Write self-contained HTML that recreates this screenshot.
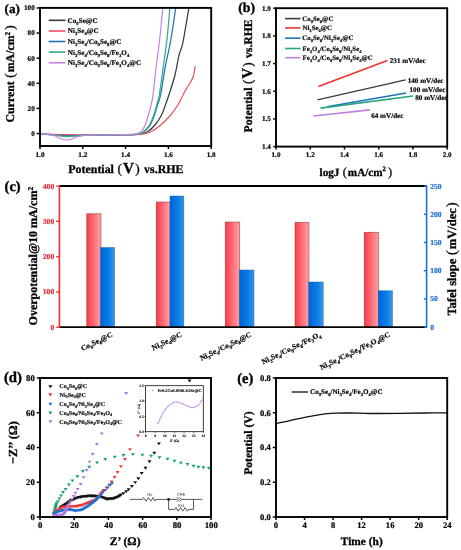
<!DOCTYPE html>
<html><head><meta charset="utf-8"><style>
html,body{margin:0;padding:0;background:#fff;overflow:hidden;}
svg{display:block;font-family:"Liberation Serif", serif;text-rendering:geometricPrecision;filter:blur(0.3px);}
</style></head><body>
<svg width="461" height="550" viewBox="0 0 461 550">
<rect width="461" height="550" fill="#fff"/>
<line x1="36.60" y1="133.50" x2="40.00" y2="133.50" stroke="#000" stroke-width="1.5"/>
<text x="34.80" y="135.88" font-size="7.214" font-weight="bold" text-anchor="end" stroke="#000" stroke-width="0.180">0</text>
<line x1="36.60" y1="108.40" x2="40.00" y2="108.40" stroke="#000" stroke-width="1.5"/>
<text x="34.80" y="110.78" font-size="7.214" font-weight="bold" text-anchor="end" stroke="#000" stroke-width="0.180">20</text>
<line x1="36.60" y1="83.30" x2="40.00" y2="83.30" stroke="#000" stroke-width="1.5"/>
<text x="34.80" y="85.68" font-size="7.214" font-weight="bold" text-anchor="end" stroke="#000" stroke-width="0.180">40</text>
<line x1="36.60" y1="58.20" x2="40.00" y2="58.20" stroke="#000" stroke-width="1.5"/>
<text x="34.80" y="60.58" font-size="7.214" font-weight="bold" text-anchor="end" stroke="#000" stroke-width="0.180">60</text>
<line x1="36.60" y1="33.10" x2="40.00" y2="33.10" stroke="#000" stroke-width="1.5"/>
<text x="34.80" y="35.48" font-size="7.214" font-weight="bold" text-anchor="end" stroke="#000" stroke-width="0.180">80</text>
<line x1="36.60" y1="8.00" x2="40.00" y2="8.00" stroke="#000" stroke-width="1.5"/>
<text x="34.80" y="10.38" font-size="7.214" font-weight="bold" text-anchor="end" stroke="#000" stroke-width="0.180">100</text>
<line x1="40.00" y1="146.00" x2="40.00" y2="149.00" stroke="#000" stroke-width="1.5"/>
<text x="40.00" y="156.90" font-size="7.214" font-weight="bold" text-anchor="middle" stroke="#000" stroke-width="0.180">1.0</text>
<line x1="82.80" y1="146.00" x2="82.80" y2="149.00" stroke="#000" stroke-width="1.5"/>
<text x="82.80" y="156.90" font-size="7.214" font-weight="bold" text-anchor="middle" stroke="#000" stroke-width="0.180">1.2</text>
<line x1="125.60" y1="146.00" x2="125.60" y2="149.00" stroke="#000" stroke-width="1.5"/>
<text x="125.60" y="156.90" font-size="7.214" font-weight="bold" text-anchor="middle" stroke="#000" stroke-width="0.180">1.4</text>
<line x1="168.40" y1="146.00" x2="168.40" y2="149.00" stroke="#000" stroke-width="1.5"/>
<text x="168.40" y="156.90" font-size="7.214" font-weight="bold" text-anchor="middle" stroke="#000" stroke-width="0.180">1.6</text>
<line x1="211.20" y1="146.00" x2="211.20" y2="149.00" stroke="#000" stroke-width="1.5"/>
<text x="211.20" y="156.90" font-size="7.214" font-weight="bold" text-anchor="middle" stroke="#000" stroke-width="0.180">1.8</text>
<path d="M40.00,134.00 C43.33,134.13 53.33,134.60 60.00,134.80 C66.67,135.00 73.33,135.17 80.00,135.20 C86.67,135.23 92.00,135.08 100.00,135.00 C108.00,134.92 122.00,134.80 128.00,134.70 C134.00,134.60 133.83,134.58 136.00,134.40 C138.17,134.22 139.13,134.00 141.00,133.60 C142.87,133.20 144.87,133.43 147.20,132.00 C149.53,130.57 152.62,127.83 155.00,125.00 C157.38,122.17 159.77,118.33 161.50,115.00 C163.23,111.67 164.17,108.33 165.40,105.00 C166.63,101.67 167.30,100.00 168.90,95.00 C170.50,90.00 173.33,81.57 175.00,75.00 C176.67,68.43 177.82,60.13 178.90,55.60 C179.98,51.07 180.75,50.40 181.50,47.80 C182.25,45.20 182.17,46.65 183.40,40.00 C184.63,33.35 187.98,13.25 188.90,7.90" fill="none" stroke="#3a3a3a" stroke-width="1.25" stroke-linejoin="round" stroke-linecap="round"/>
<path d="M40.00,134.00 C43.33,134.08 53.33,134.33 60.00,134.50 C66.67,134.67 73.33,134.92 80.00,135.00 C86.67,135.08 91.67,135.03 100.00,135.00 C108.33,134.97 123.67,134.88 130.00,134.80 C136.33,134.72 135.83,134.67 138.00,134.50 C140.17,134.33 140.93,134.22 143.00,133.80 C145.07,133.38 147.43,133.47 150.40,132.00 C153.37,130.53 157.43,127.83 160.80,125.00 C164.17,122.17 167.77,118.33 170.60,115.00 C173.43,111.67 175.73,108.33 177.80,105.00 C179.87,101.67 181.52,97.80 183.00,95.00 C184.48,92.20 185.53,90.20 186.70,88.20 C187.87,86.20 188.92,84.95 190.00,83.00 C191.08,81.05 192.35,79.22 193.20,76.50 C194.05,73.78 194.78,68.33 195.10,66.70" fill="none" stroke="#ea5560" stroke-width="1.25" stroke-linejoin="round" stroke-linecap="round"/>
<path d="M40.00,134.00 C43.33,134.25 55.00,135.17 60.00,135.50 C65.00,135.83 65.83,136.03 70.00,136.00 C74.17,135.97 80.00,135.47 85.00,135.30 C90.00,135.13 92.83,135.10 100.00,135.00 C107.17,134.90 122.00,134.80 128.00,134.70 C134.00,134.60 133.92,134.58 136.00,134.40 C138.08,134.22 139.17,134.00 140.50,133.60 C141.83,133.20 142.38,133.43 144.00,132.00 C145.62,130.57 148.45,127.83 150.20,125.00 C151.95,122.17 153.28,118.33 154.50,115.00 C155.72,111.67 156.48,108.33 157.50,105.00 C158.52,101.67 159.32,101.28 160.60,95.00 C161.88,88.72 163.50,76.47 165.20,67.30 C166.90,58.13 169.05,49.90 170.80,40.00 C172.55,30.10 174.88,13.25 175.70,7.90" fill="none" stroke="#2272b8" stroke-width="1.25" stroke-linejoin="round" stroke-linecap="round"/>
<path d="M40.00,134.00 C41.67,134.08 46.67,134.17 50.00,134.50 C53.33,134.83 57.33,135.65 60.00,136.00 C62.67,136.35 63.67,136.60 66.00,136.60 C68.33,136.60 70.83,136.22 74.00,136.00 C77.17,135.78 80.67,135.47 85.00,135.30 C89.33,135.13 92.83,135.10 100.00,135.00 C107.17,134.90 122.00,134.80 128.00,134.70 C134.00,134.60 134.00,134.58 136.00,134.40 C138.00,134.22 138.78,134.00 140.00,133.60 C141.22,133.20 141.73,133.43 143.30,132.00 C144.87,130.57 147.67,127.83 149.40,125.00 C151.13,122.17 152.48,118.33 153.70,115.00 C154.92,111.67 155.77,108.33 156.70,105.00 C157.63,101.67 158.22,101.28 159.30,95.00 C160.38,88.72 161.93,76.47 163.20,67.30 C164.47,58.13 165.78,49.90 166.90,40.00 C168.02,30.10 169.40,13.25 169.90,7.90" fill="none" stroke="#3aa884" stroke-width="1.25" stroke-linejoin="round" stroke-linecap="round"/>
<path d="M40.00,134.00 C41.33,134.05 45.67,134.05 48.00,134.30 C50.33,134.55 52.00,134.83 54.00,135.50 C56.00,136.17 58.00,137.55 60.00,138.30 C62.00,139.05 64.00,139.88 66.00,140.00 C68.00,140.12 70.00,139.58 72.00,139.00 C74.00,138.42 75.83,137.13 78.00,136.50 C80.17,135.87 81.33,135.45 85.00,135.20 C88.67,134.95 93.33,135.08 100.00,135.00 C106.67,134.92 119.33,134.83 125.00,134.70 C130.67,134.57 131.83,134.42 134.00,134.20 C136.17,133.98 136.78,133.85 138.00,133.40 C139.22,132.95 140.10,132.90 141.30,131.50 C142.50,130.10 144.00,127.75 145.20,125.00 C146.40,122.25 147.52,118.33 148.50,115.00 C149.48,111.67 150.35,108.33 151.10,105.00 C151.85,101.67 152.17,101.28 153.00,95.00 C153.83,88.72 155.00,76.47 156.10,67.30 C157.20,58.13 158.48,49.90 159.60,40.00 C160.72,30.10 162.27,13.25 162.80,7.90" fill="none" stroke="#c388e0" stroke-width="1.25" stroke-linejoin="round" stroke-linecap="round"/>
<rect x="40" y="7.9" width="171.20" height="138.10" fill="none" stroke="#000" stroke-width="1.9"/>
<line x1="48.70" y1="20.30" x2="65.50" y2="20.30" stroke="#3a3a3a" stroke-width="1.6"/>
<g transform="translate(67.61,22.70)"><text font-size="7.158" font-weight="bold" stroke="#000" stroke-width="0.179">Co<tspan font-size="4.72" dy="2.00">9</tspan><tspan font-size="7.16" dy="-2.00">S</tspan>e@C</text></g>
<line x1="48.70" y1="31.00" x2="65.50" y2="31.00" stroke="#ea5560" stroke-width="1.6"/>
<g transform="translate(67.83,33.40)"><text font-size="7.158" font-weight="bold" stroke="#000" stroke-width="0.179">Ni<tspan font-size="4.72" dy="2.00">3</tspan><tspan font-size="7.16" dy="-2.00">S</tspan>e<tspan font-size="4.72" dy="2.00">4</tspan><tspan font-size="7.16" dy="-2.00">@</tspan>C</text></g>
<line x1="48.70" y1="41.50" x2="65.50" y2="41.50" stroke="#2272b8" stroke-width="1.6"/>
<g transform="translate(67.83,43.90)"><text font-size="7.158" font-weight="bold" stroke="#000" stroke-width="0.179">Ni<tspan font-size="4.72" dy="2.00">3</tspan><tspan font-size="7.16" dy="-2.00">S</tspan>e<tspan font-size="4.72" dy="2.00">4</tspan><tspan font-size="7.16" dy="-2.00">/</tspan>Co<tspan font-size="4.72" dy="2.00">9</tspan><tspan font-size="7.16" dy="-2.00">S</tspan>e<tspan font-size="4.72" dy="2.00">8</tspan><tspan font-size="7.16" dy="-2.00">@</tspan>C</text></g>
<line x1="48.70" y1="52.10" x2="65.50" y2="52.10" stroke="#3aa884" stroke-width="1.6"/>
<g transform="translate(67.83,54.50)"><text font-size="7.158" font-weight="bold" stroke="#000" stroke-width="0.179">Ni<tspan font-size="4.72" dy="2.00">3</tspan><tspan font-size="7.16" dy="-2.00">S</tspan>e<tspan font-size="4.72" dy="2.00">4</tspan><tspan font-size="7.16" dy="-2.00">/</tspan>Co<tspan font-size="4.72" dy="2.00">9</tspan><tspan font-size="7.16" dy="-2.00">S</tspan>e<tspan font-size="4.72" dy="2.00">8</tspan><tspan font-size="7.16" dy="-2.00">/</tspan>Fe<tspan font-size="4.72" dy="2.00">3</tspan><tspan font-size="7.16" dy="-2.00">O</tspan><tspan font-size="4.72" dy="2.00">4</tspan></text></g>
<line x1="48.70" y1="62.80" x2="65.50" y2="62.80" stroke="#c388e0" stroke-width="1.6"/>
<g transform="translate(67.83,65.20)"><text font-size="7.158" font-weight="bold" stroke="#000" stroke-width="0.179">Ni<tspan font-size="4.72" dy="2.00">3</tspan><tspan font-size="7.16" dy="-2.00">S</tspan>e<tspan font-size="4.72" dy="2.00">4</tspan><tspan font-size="7.16" dy="-2.00">/</tspan>Co<tspan font-size="4.72" dy="2.00">9</tspan><tspan font-size="7.16" dy="-2.00">S</tspan>e<tspan font-size="4.72" dy="2.00">8</tspan><tspan font-size="7.16" dy="-2.00">/</tspan>Fe<tspan font-size="4.72" dy="2.00">3</tspan><tspan font-size="7.16" dy="-2.00">O</tspan><tspan font-size="4.72" dy="2.00">4</tspan><tspan font-size="7.16" dy="-2.00">@</tspan>C</text></g>
<g transform="translate(4.56,12.50)"><text font-size="13.136" font-weight="bold" stroke="#000" stroke-width="0.328">(a)</text></g>
<g transform="translate(68.30,173.30)"><text font-size="11.921" font-weight="bold" stroke="#000" stroke-width="0.298">Potential<tspan dx="3.58" font-weight="normal" font-size="13.35">(</tspan><tspan dx="1.07" font-size="11.92"><tspan font-size="15.26">V</tspan></tspan><tspan dx="1.07" font-weight="normal" font-size="13.35">)</tspan><tspan dx="4.53" font-size="11.92">vs.RHE</tspan></text></g>
<g transform="translate(14.10,122.47) rotate(-90)"><text font-size="11.845" font-weight="bold" stroke="#000" stroke-width="0.296">Current<tspan dx="3.55" font-weight="normal" font-size="13.27">(</tspan><tspan dx="1.07" font-size="11.85">mA/cm<tspan font-size="7.34" dy="-4.50">2</tspan><tspan font-size="11.85" dy="4.50"> </tspan></tspan><tspan dx="1.07" font-weight="normal" font-size="13.27">)</tspan><tspan dx="0.00" font-size="11.85"></tspan></text></g>
<line x1="273.20" y1="146.60" x2="276.00" y2="146.60" stroke="#000" stroke-width="1.5"/>
<text x="270.90" y="148.95" font-size="7.130" font-weight="bold" text-anchor="end" stroke="#000" stroke-width="0.178">1.4</text>
<line x1="273.20" y1="118.92" x2="276.00" y2="118.92" stroke="#000" stroke-width="1.5"/>
<text x="270.90" y="121.27" font-size="7.130" font-weight="bold" text-anchor="end" stroke="#000" stroke-width="0.178">1.5</text>
<line x1="273.20" y1="91.24" x2="276.00" y2="91.24" stroke="#000" stroke-width="1.5"/>
<text x="270.90" y="93.59" font-size="7.130" font-weight="bold" text-anchor="end" stroke="#000" stroke-width="0.178">1.6</text>
<line x1="273.20" y1="63.56" x2="276.00" y2="63.56" stroke="#000" stroke-width="1.5"/>
<text x="270.90" y="65.91" font-size="7.130" font-weight="bold" text-anchor="end" stroke="#000" stroke-width="0.178">1.7</text>
<line x1="273.20" y1="35.88" x2="276.00" y2="35.88" stroke="#000" stroke-width="1.5"/>
<text x="270.90" y="38.23" font-size="7.130" font-weight="bold" text-anchor="end" stroke="#000" stroke-width="0.178">1.8</text>
<line x1="273.20" y1="8.20" x2="276.00" y2="8.20" stroke="#000" stroke-width="1.5"/>
<text x="270.90" y="10.55" font-size="7.130" font-weight="bold" text-anchor="end" stroke="#000" stroke-width="0.178">1.9</text>
<line x1="276.00" y1="146.60" x2="276.00" y2="149.60" stroke="#000" stroke-width="1.5"/>
<text x="276.00" y="157.20" font-size="7.130" font-weight="bold" text-anchor="middle" stroke="#000" stroke-width="0.178">1.0</text>
<line x1="310.24" y1="146.60" x2="310.24" y2="149.60" stroke="#000" stroke-width="1.5"/>
<text x="310.24" y="157.20" font-size="7.130" font-weight="bold" text-anchor="middle" stroke="#000" stroke-width="0.178">1.2</text>
<line x1="344.48" y1="146.60" x2="344.48" y2="149.60" stroke="#000" stroke-width="1.5"/>
<text x="344.48" y="157.20" font-size="7.130" font-weight="bold" text-anchor="middle" stroke="#000" stroke-width="0.178">1.4</text>
<line x1="378.72" y1="146.60" x2="378.72" y2="149.60" stroke="#000" stroke-width="1.5"/>
<text x="378.72" y="157.20" font-size="7.130" font-weight="bold" text-anchor="middle" stroke="#000" stroke-width="0.178">1.6</text>
<line x1="412.96" y1="146.60" x2="412.96" y2="149.60" stroke="#000" stroke-width="1.5"/>
<text x="412.96" y="157.20" font-size="7.130" font-weight="bold" text-anchor="middle" stroke="#000" stroke-width="0.178">1.8</text>
<line x1="447.20" y1="146.60" x2="447.20" y2="149.60" stroke="#000" stroke-width="1.5"/>
<text x="447.20" y="157.20" font-size="7.130" font-weight="bold" text-anchor="middle" stroke="#000" stroke-width="0.178">2.0</text>
<line x1="318.40" y1="86.40" x2="387.40" y2="60.40" stroke="#ee3333" stroke-width="1.6"/>
<line x1="317.40" y1="99.90" x2="405.60" y2="79.80" stroke="#3a3a3a" stroke-width="1.3"/>
<line x1="327.10" y1="106.80" x2="406.10" y2="93.00" stroke="#1f70c0" stroke-width="1.6"/>
<line x1="320.60" y1="108.10" x2="413.00" y2="96.00" stroke="#25a57c" stroke-width="1.6"/>
<line x1="313.40" y1="116.00" x2="369.80" y2="109.90" stroke="#c080e0" stroke-width="1.6"/>
<rect x="276" y="8.2" width="171.20" height="138.40" fill="none" stroke="#000" stroke-width="1.9"/>
<g transform="translate(389.79,62.60)"><text font-size="7.149" font-weight="bold" stroke="#000" stroke-width="0.179">231 mV/dec</text></g>
<g transform="translate(407.70,82.70)"><text font-size="7.149" font-weight="bold" stroke="#000" stroke-width="0.179">140 mV/dec</text></g>
<g transform="translate(409.50,91.80)"><text font-size="7.149" font-weight="bold" stroke="#000" stroke-width="0.179">100 mV/dec</text></g>
<g transform="translate(415.26,100.30)"><text font-size="7.149" font-weight="bold" stroke="#000" stroke-width="0.179">80 mV/dec</text></g>
<g transform="translate(371.16,118.00)"><text font-size="7.149" font-weight="bold" stroke="#000" stroke-width="0.179">64 mV/dec</text></g>
<line x1="285.10" y1="18.60" x2="300.50" y2="18.60" stroke="#3a3a3a" stroke-width="1.6"/>
<g transform="translate(302.33,20.70)"><text font-size="6.847" font-weight="bold" stroke="#000" stroke-width="0.171">Co<tspan font-size="4.52" dy="1.92">9</tspan><tspan font-size="6.85" dy="-1.92">S</tspan>e<tspan font-size="4.52" dy="1.92">8</tspan><tspan font-size="6.85" dy="-1.92">@</tspan>C</text></g>
<line x1="285.10" y1="27.90" x2="300.50" y2="27.90" stroke="#ee3333" stroke-width="1.6"/>
<g transform="translate(302.53,30.00)"><text font-size="6.847" font-weight="bold" stroke="#000" stroke-width="0.171">Ni<tspan font-size="4.52" dy="1.92">3</tspan><tspan font-size="6.85" dy="-1.92">S</tspan>e<tspan font-size="4.52" dy="1.92">4</tspan><tspan font-size="6.85" dy="-1.92">@</tspan>C</text></g>
<line x1="285.10" y1="38.20" x2="300.50" y2="38.20" stroke="#1f70c0" stroke-width="1.6"/>
<g transform="translate(302.33,40.30)"><text font-size="6.847" font-weight="bold" stroke="#000" stroke-width="0.171">Co<tspan font-size="4.52" dy="1.92">9</tspan><tspan font-size="6.85" dy="-1.92">S</tspan>e<tspan font-size="4.52" dy="1.92">8</tspan><tspan font-size="6.85" dy="-1.92">/</tspan>Ni<tspan font-size="4.52" dy="1.92">3</tspan><tspan font-size="6.85" dy="-1.92">S</tspan>e<tspan font-size="4.52" dy="1.92">4</tspan><tspan font-size="6.85" dy="-1.92">@</tspan>C</text></g>
<line x1="285.10" y1="48.50" x2="300.50" y2="48.50" stroke="#25a57c" stroke-width="1.6"/>
<g transform="translate(302.60,50.60)"><text font-size="6.847" font-weight="bold" stroke="#000" stroke-width="0.171">Fe<tspan font-size="4.52" dy="1.92">3</tspan><tspan font-size="6.85" dy="-1.92">O</tspan><tspan font-size="4.52" dy="1.92">4</tspan><tspan font-size="6.85" dy="-1.92">/</tspan>Co<tspan font-size="4.52" dy="1.92">9</tspan><tspan font-size="6.85" dy="-1.92">S</tspan>e<tspan font-size="4.52" dy="1.92">8</tspan><tspan font-size="6.85" dy="-1.92">/</tspan>Ni<tspan font-size="4.52" dy="1.92">3</tspan><tspan font-size="6.85" dy="-1.92">S</tspan>e<tspan font-size="4.52" dy="1.92">4</tspan></text></g>
<line x1="285.10" y1="57.70" x2="300.50" y2="57.70" stroke="#c080e0" stroke-width="1.6"/>
<g transform="translate(302.60,59.80)"><text font-size="6.847" font-weight="bold" stroke="#000" stroke-width="0.171">Fe<tspan font-size="4.52" dy="1.92">3</tspan><tspan font-size="6.85" dy="-1.92">O</tspan><tspan font-size="4.52" dy="1.92">4</tspan><tspan font-size="6.85" dy="-1.92">/</tspan>Co<tspan font-size="4.52" dy="1.92">9</tspan><tspan font-size="6.85" dy="-1.92">S</tspan>e<tspan font-size="4.52" dy="1.92">8</tspan><tspan font-size="6.85" dy="-1.92">/</tspan>Ni<tspan font-size="4.52" dy="1.92">3</tspan><tspan font-size="6.85" dy="-1.92">S</tspan>e<tspan font-size="4.52" dy="1.92">4</tspan><tspan font-size="6.85" dy="-1.92">@</tspan>C</text></g>
<g transform="translate(238.19,12.00)"><text font-size="13.793" font-weight="bold" stroke="#000" stroke-width="0.345">(b)</text></g>
<g transform="translate(252.40,132.40) rotate(-90)"><text font-size="11.703" font-weight="bold" stroke="#000" stroke-width="0.293">Potential<tspan dx="3.51" font-weight="normal" font-size="13.11">(</tspan><tspan dx="1.05" font-size="11.70"><tspan font-size="14.98">V</tspan></tspan><tspan dx="1.05" font-weight="normal" font-size="13.11">)</tspan><tspan dx="4.45" font-size="11.70">vs.RHE</tspan></text></g>
<g transform="translate(319.59,175.60)"><text font-size="11.146" font-weight="bold" stroke="#000" stroke-width="0.279">logJ<tspan dx="3.34" font-weight="normal" font-size="12.48">(</tspan><tspan dx="1.00" font-size="11.15">mA/cm<tspan font-size="6.91" dy="-4.24">2</tspan><tspan font-size="11.15" dy="4.24"> </tspan></tspan><tspan dx="1.00" font-weight="normal" font-size="12.48">)</tspan><tspan dx="0.00" font-size="11.15"></tspan></text></g>
<defs><linearGradient id="gr" x1="0" x2="1" y1="0" y2="0"><stop offset="0" stop-color="#ff3846"/><stop offset="1" stop-color="#ffa3a8"/></linearGradient><linearGradient id="gb" x1="0" x2="1" y1="0" y2="0"><stop offset="0" stop-color="#0062dc"/><stop offset="0.6" stop-color="#0a7fe4"/><stop offset="1" stop-color="#3a96e6"/></linearGradient></defs>
<rect x="86.8" y="213.8" width="14.20" height="113.40" fill="url(#gr)" stroke="#7a3a3a" stroke-width="0.5"/>
<rect x="100.5" y="247.5" width="14.20" height="79.70" fill="url(#gb)" stroke="#1a5aa0" stroke-width="0.4"/>
<rect x="156.2" y="202.0" width="13.80" height="125.20" fill="url(#gr)" stroke="#7a3a3a" stroke-width="0.5"/>
<rect x="170.0" y="196.0" width="13.90" height="131.20" fill="url(#gb)" stroke="#1a5aa0" stroke-width="0.4"/>
<rect x="225.2" y="222.0" width="14.60" height="105.20" fill="url(#gr)" stroke="#7a3a3a" stroke-width="0.5"/>
<rect x="239.5" y="270.0" width="14.50" height="57.20" fill="url(#gb)" stroke="#1a5aa0" stroke-width="0.4"/>
<rect x="295.0" y="222.3" width="14.00" height="104.90" fill="url(#gr)" stroke="#7a3a3a" stroke-width="0.5"/>
<rect x="308.8" y="282.0" width="14.40" height="45.20" fill="url(#gb)" stroke="#1a5aa0" stroke-width="0.4"/>
<rect x="364.2" y="232.2" width="14.60" height="95.00" fill="url(#gr)" stroke="#7a3a3a" stroke-width="0.5"/>
<rect x="378.2" y="290.8" width="14.30" height="36.40" fill="url(#gb)" stroke="#1a5aa0" stroke-width="0.4"/>
<line x1="59.40" y1="186.00" x2="426.60" y2="186.00" stroke="#000" stroke-width="1.8"/>
<line x1="59.40" y1="327.20" x2="426.60" y2="327.20" stroke="#000" stroke-width="1.8"/>
<line x1="59.40" y1="186.00" x2="59.40" y2="327.20" stroke="#ff2a2a" stroke-width="1.6"/>
<line x1="426.60" y1="186.00" x2="426.60" y2="327.20" stroke="#1a70d0" stroke-width="1.6"/>
<line x1="56.20" y1="327.20" x2="59.40" y2="327.20" stroke="#ff2a2a" stroke-width="1.4"/>
<text x="54.20" y="329.71" font-size="7.619" font-weight="bold" text-anchor="end" fill="#e0303e" stroke="#e0303e" stroke-width="0.190">0</text>
<line x1="56.20" y1="291.90" x2="59.40" y2="291.90" stroke="#ff2a2a" stroke-width="1.4"/>
<text x="54.20" y="294.41" font-size="7.619" font-weight="bold" text-anchor="end" fill="#e0303e" stroke="#e0303e" stroke-width="0.190">100</text>
<line x1="56.20" y1="256.60" x2="59.40" y2="256.60" stroke="#ff2a2a" stroke-width="1.4"/>
<text x="54.20" y="259.11" font-size="7.619" font-weight="bold" text-anchor="end" fill="#e0303e" stroke="#e0303e" stroke-width="0.190">200</text>
<line x1="56.20" y1="221.30" x2="59.40" y2="221.30" stroke="#ff2a2a" stroke-width="1.4"/>
<text x="54.20" y="223.81" font-size="7.619" font-weight="bold" text-anchor="end" fill="#e0303e" stroke="#e0303e" stroke-width="0.190">300</text>
<line x1="56.20" y1="186.00" x2="59.40" y2="186.00" stroke="#ff2a2a" stroke-width="1.4"/>
<text x="54.20" y="188.51" font-size="7.619" font-weight="bold" text-anchor="end" fill="#e0303e" stroke="#e0303e" stroke-width="0.190">400</text>
<line x1="423.80" y1="327.20" x2="426.60" y2="327.20" stroke="#1a70d0" stroke-width="1.4"/>
<text x="430.20" y="329.71" font-size="7.619" font-weight="bold" text-anchor="start" fill="#1a70d0" stroke="#1a70d0" stroke-width="0.190">0</text>
<line x1="423.80" y1="298.96" x2="426.60" y2="298.96" stroke="#1a70d0" stroke-width="1.4"/>
<text x="430.20" y="301.47" font-size="7.619" font-weight="bold" text-anchor="start" fill="#1a70d0" stroke="#1a70d0" stroke-width="0.190">50</text>
<line x1="423.80" y1="270.72" x2="426.60" y2="270.72" stroke="#1a70d0" stroke-width="1.4"/>
<text x="430.20" y="273.23" font-size="7.619" font-weight="bold" text-anchor="start" fill="#1a70d0" stroke="#1a70d0" stroke-width="0.190">100</text>
<line x1="423.80" y1="242.48" x2="426.60" y2="242.48" stroke="#1a70d0" stroke-width="1.4"/>
<text x="430.20" y="244.99" font-size="7.619" font-weight="bold" text-anchor="start" fill="#1a70d0" stroke="#1a70d0" stroke-width="0.190">150</text>
<line x1="423.80" y1="214.24" x2="426.60" y2="214.24" stroke="#1a70d0" stroke-width="1.4"/>
<text x="430.20" y="216.75" font-size="7.619" font-weight="bold" text-anchor="start" fill="#1a70d0" stroke="#1a70d0" stroke-width="0.190">200</text>
<line x1="423.80" y1="186.00" x2="426.60" y2="186.00" stroke="#1a70d0" stroke-width="1.4"/>
<text x="430.20" y="188.51" font-size="7.619" font-weight="bold" text-anchor="start" fill="#1a70d0" stroke="#1a70d0" stroke-width="0.190">250</text>
<g transform="translate(113.00,336.20) rotate(-26)"><text font-size="7.5" text-anchor="end" font-weight="bold" stroke="#000" stroke-width="0.19">Co<tspan font-size="4.95" dy="2.10">9</tspan><tspan font-size="7.50" dy="-2.10">S</tspan>e<tspan font-size="4.95" dy="2.10">8</tspan><tspan font-size="7.50" dy="-2.10">@</tspan>C</text></g>
<g transform="translate(182.40,336.20) rotate(-26)"><text font-size="7.5" text-anchor="end" font-weight="bold" stroke="#000" stroke-width="0.19">Ni<tspan font-size="4.95" dy="2.10">3</tspan><tspan font-size="7.50" dy="-2.10">S</tspan>e<tspan font-size="4.95" dy="2.10">4</tspan><tspan font-size="7.50" dy="-2.10">@</tspan>C</text></g>
<g transform="translate(251.80,336.20) rotate(-26)"><text font-size="7.5" text-anchor="end" font-weight="bold" stroke="#000" stroke-width="0.19">Ni<tspan font-size="4.95" dy="2.10">3</tspan><tspan font-size="7.50" dy="-2.10">S</tspan>e<tspan font-size="4.95" dy="2.10">4</tspan><tspan font-size="7.50" dy="-2.10">/</tspan>Co<tspan font-size="4.95" dy="2.10">9</tspan><tspan font-size="7.50" dy="-2.10">S</tspan>e<tspan font-size="4.95" dy="2.10">8</tspan><tspan font-size="7.50" dy="-2.10">@</tspan>C</text></g>
<g transform="translate(321.20,336.20) rotate(-26)"><text font-size="7.5" text-anchor="end" font-weight="bold" stroke="#000" stroke-width="0.19">Ni<tspan font-size="4.95" dy="2.10">3</tspan><tspan font-size="7.50" dy="-2.10">S</tspan>e<tspan font-size="4.95" dy="2.10">4</tspan><tspan font-size="7.50" dy="-2.10">/</tspan>Co<tspan font-size="4.95" dy="2.10">9</tspan><tspan font-size="7.50" dy="-2.10">S</tspan>e<tspan font-size="4.95" dy="2.10">8</tspan><tspan font-size="7.50" dy="-2.10">/</tspan>Fe<tspan font-size="4.95" dy="2.10">3</tspan><tspan font-size="7.50" dy="-2.10">O</tspan><tspan font-size="4.95" dy="2.10">4</tspan></text></g>
<g transform="translate(390.60,336.20) rotate(-26)"><text font-size="7.5" text-anchor="end" font-weight="bold" stroke="#000" stroke-width="0.19">Ni<tspan font-size="4.95" dy="2.10">3</tspan><tspan font-size="7.50" dy="-2.10">S</tspan>e<tspan font-size="4.95" dy="2.10">4</tspan><tspan font-size="7.50" dy="-2.10">/</tspan>Co<tspan font-size="4.95" dy="2.10">9</tspan><tspan font-size="7.50" dy="-2.10">S</tspan>e<tspan font-size="4.95" dy="2.10">8</tspan><tspan font-size="7.50" dy="-2.10">/</tspan>Fe<tspan font-size="4.95" dy="2.10">3</tspan><tspan font-size="7.50" dy="-2.10">O</tspan><tspan font-size="4.95" dy="2.10">4</tspan><tspan font-size="7.50" dy="-2.10">@</tspan>C</text></g>
<g transform="translate(4.57,190.60)"><text font-size="14.476" font-weight="bold" stroke="#000" stroke-width="0.362">(c)</text></g>
<g transform="translate(37.40,325.38) rotate(-90)"><text font-size="12.010" font-weight="bold" stroke="#000" stroke-width="0.300">Overpotential@10 mA/cm<tspan font-size="7.45" dy="-4.56">2</tspan><tspan font-size="12.01" dy="4.56"> </tspan></text></g>
<g transform="translate(455.60,315.60) rotate(-90)"><text font-size="12.519" font-weight="bold" stroke="#000" stroke-width="0.313">Tafel slope<tspan dx="3.76" font-weight="normal" font-size="14.02">(</tspan><tspan dx="1.13" font-size="12.52">mV/dec</tspan><tspan dx="1.13" font-weight="normal" font-size="14.02">)</tspan><tspan dx="0.00" font-size="12.52"></tspan></text></g>
<line x1="36.80" y1="517.00" x2="40.00" y2="517.00" stroke="#000" stroke-width="1.5"/>
<text x="34.80" y="519.88" font-size="8.714" font-weight="bold" text-anchor="end" stroke="#000" stroke-width="0.218">0</text>
<line x1="36.80" y1="482.25" x2="40.00" y2="482.25" stroke="#000" stroke-width="1.5"/>
<text x="34.80" y="485.13" font-size="8.714" font-weight="bold" text-anchor="end" stroke="#000" stroke-width="0.218">20</text>
<line x1="36.80" y1="447.50" x2="40.00" y2="447.50" stroke="#000" stroke-width="1.5"/>
<text x="34.80" y="450.38" font-size="8.714" font-weight="bold" text-anchor="end" stroke="#000" stroke-width="0.218">40</text>
<line x1="36.80" y1="412.75" x2="40.00" y2="412.75" stroke="#000" stroke-width="1.5"/>
<text x="34.80" y="415.63" font-size="8.714" font-weight="bold" text-anchor="end" stroke="#000" stroke-width="0.218">60</text>
<line x1="36.80" y1="378.00" x2="40.00" y2="378.00" stroke="#000" stroke-width="1.5"/>
<text x="34.80" y="380.88" font-size="8.714" font-weight="bold" text-anchor="end" stroke="#000" stroke-width="0.218">80</text>
<line x1="40.00" y1="517.00" x2="40.00" y2="520.00" stroke="#000" stroke-width="1.5"/>
<text x="40.30" y="528.40" font-size="8.714" font-weight="bold" text-anchor="middle" stroke="#000" stroke-width="0.218">0</text>
<line x1="74.20" y1="517.00" x2="74.20" y2="520.00" stroke="#000" stroke-width="1.5"/>
<text x="74.50" y="528.40" font-size="8.714" font-weight="bold" text-anchor="middle" stroke="#000" stroke-width="0.218">20</text>
<line x1="108.40" y1="517.00" x2="108.40" y2="520.00" stroke="#000" stroke-width="1.5"/>
<text x="108.70" y="528.40" font-size="8.714" font-weight="bold" text-anchor="middle" stroke="#000" stroke-width="0.218">40</text>
<line x1="142.60" y1="517.00" x2="142.60" y2="520.00" stroke="#000" stroke-width="1.5"/>
<text x="142.90" y="528.40" font-size="8.714" font-weight="bold" text-anchor="middle" stroke="#000" stroke-width="0.218">60</text>
<line x1="176.80" y1="517.00" x2="176.80" y2="520.00" stroke="#000" stroke-width="1.5"/>
<text x="177.10" y="528.40" font-size="8.714" font-weight="bold" text-anchor="middle" stroke="#000" stroke-width="0.218">80</text>
<line x1="211.00" y1="517.00" x2="211.00" y2="520.00" stroke="#000" stroke-width="1.5"/>
<text x="211.30" y="528.40" font-size="8.714" font-weight="bold" text-anchor="middle" stroke="#000" stroke-width="0.218">100</text>
<path d="M51.90,513.30L55.90,513.30L53.90,516.20Z" fill="#16a070"/>
<path d="M52.15,512.07L56.15,512.07L54.15,514.97Z" fill="#16a070"/>
<path d="M52.39,510.84L56.39,510.84L54.39,513.74Z" fill="#16a070"/>
<path d="M52.64,509.60L56.64,509.60L54.64,512.50Z" fill="#16a070"/>
<path d="M52.91,508.38L56.91,508.38L54.91,511.28Z" fill="#16a070"/>
<path d="M53.21,507.16L57.21,507.16L55.21,510.06Z" fill="#16a070"/>
<path d="M53.52,505.94L57.52,505.94L55.52,508.84Z" fill="#16a070"/>
<path d="M53.82,504.72L57.82,504.72L55.82,507.62Z" fill="#16a070"/>
<path d="M54.15,503.51L58.15,503.51L56.15,506.41Z" fill="#16a070"/>
<path d="M54.50,502.30L58.50,502.30L56.50,505.20Z" fill="#16a070"/>
<path d="M55.80,500.30L59.80,500.30L57.80,503.20Z" fill="#16a070"/>
<path d="M57.40,497.40L61.40,497.40L59.40,500.30Z" fill="#16a070"/>
<path d="M59.10,494.40L63.10,494.40L61.10,497.30Z" fill="#16a070"/>
<path d="M61.00,491.10L65.00,491.10L63.00,494.00Z" fill="#16a070"/>
<path d="M63.60,487.90L67.60,487.90L65.60,490.80Z" fill="#16a070"/>
<path d="M66.90,483.60L70.90,483.60L68.90,486.50Z" fill="#16a070"/>
<path d="M70.40,479.40L74.40,479.40L72.40,482.30Z" fill="#16a070"/>
<path d="M75.30,475.30L79.30,475.30L77.30,478.20Z" fill="#16a070"/>
<path d="M80.80,470.10L84.80,470.10L82.80,473.00Z" fill="#16a070"/>
<path d="M87.30,465.80L91.30,465.80L89.30,468.70Z" fill="#16a070"/>
<path d="M95.10,461.60L99.10,461.60L97.10,464.50Z" fill="#16a070"/>
<path d="M103.30,458.10L107.30,458.10L105.30,461.00Z" fill="#16a070"/>
<path d="M112.80,455.70L116.80,455.70L114.80,458.60Z" fill="#16a070"/>
<path d="M121.50,454.00L125.50,454.00L123.50,456.90Z" fill="#16a070"/>
<path d="M131.00,453.20L135.00,453.20L133.00,456.10Z" fill="#16a070"/>
<path d="M140.40,453.80L144.40,453.80L142.40,456.70Z" fill="#16a070"/>
<path d="M149.00,454.80L153.00,454.80L151.00,457.70Z" fill="#16a070"/>
<path d="M157.50,456.30L161.50,456.30L159.50,459.20Z" fill="#16a070"/>
<path d="M165.50,457.80L169.50,457.80L167.50,460.70Z" fill="#16a070"/>
<path d="M172.50,459.80L176.50,459.80L174.50,462.70Z" fill="#16a070"/>
<path d="M178.90,461.80L182.90,461.80L180.90,464.70Z" fill="#16a070"/>
<path d="M185.50,463.10L189.50,463.10L187.50,466.00Z" fill="#16a070"/>
<path d="M191.50,464.80L195.50,464.80L193.50,467.70Z" fill="#16a070"/>
<path d="M196.40,465.80L200.40,465.80L198.40,468.70Z" fill="#16a070"/>
<path d="M201.40,466.30L205.40,466.30L203.40,469.20Z" fill="#16a070"/>
<path d="M206.80,466.80L210.80,466.80L208.80,469.70Z" fill="#16a070"/>
<path d="M58.50,506.30L62.50,506.30L60.50,509.20Z" fill="#111"/>
<path d="M59.49,505.62L63.49,505.62L61.49,508.52Z" fill="#111"/>
<path d="M60.49,504.95L64.49,504.95L62.49,507.85Z" fill="#111"/>
<path d="M61.50,504.31L65.50,504.31L63.50,507.21Z" fill="#111"/>
<path d="M62.55,503.71L66.55,503.71L64.55,506.61Z" fill="#111"/>
<path d="M63.59,503.11L67.59,503.11L65.59,506.01Z" fill="#111"/>
<path d="M64.55,502.39L68.55,502.39L66.55,505.29Z" fill="#111"/>
<path d="M65.51,501.67L69.51,501.67L67.51,504.57Z" fill="#111"/>
<path d="M66.47,500.94L70.47,500.94L68.47,503.84Z" fill="#111"/>
<path d="M67.44,500.22L71.44,500.22L69.44,503.12Z" fill="#111"/>
<path d="M68.40,499.50L72.40,499.50L70.40,502.40Z" fill="#111"/>
<path d="M69.45,498.94L73.45,498.94L71.45,501.84Z" fill="#111"/>
<path d="M70.56,498.48L74.56,498.48L72.56,501.38Z" fill="#111"/>
<path d="M71.67,498.02L75.67,498.02L73.67,500.92Z" fill="#111"/>
<path d="M72.78,497.57L76.78,497.57L74.78,500.47Z" fill="#111"/>
<path d="M73.89,497.11L77.89,497.11L75.89,500.01Z" fill="#111"/>
<path d="M75.01,496.65L79.01,496.65L77.01,499.55Z" fill="#111"/>
<path d="M76.12,496.20L80.12,496.20L78.12,499.10Z" fill="#111"/>
<path d="M77.28,495.92L81.28,495.92L79.28,498.82Z" fill="#111"/>
<path d="M78.47,495.77L82.47,495.77L80.47,498.67Z" fill="#111"/>
<path d="M79.66,495.62L83.66,495.62L81.66,498.52Z" fill="#111"/>
<path d="M80.85,495.47L84.85,495.47L82.85,498.37Z" fill="#111"/>
<path d="M82.05,495.32L86.05,495.32L84.05,498.22Z" fill="#111"/>
<path d="M83.24,495.17L87.24,495.17L85.24,498.07Z" fill="#111"/>
<path d="M84.43,495.02L88.43,495.02L86.43,497.92Z" fill="#111"/>
<path d="M85.63,494.87L89.63,494.87L87.63,497.77Z" fill="#111"/>
<path d="M86.82,494.72L90.82,494.72L88.82,497.62Z" fill="#111"/>
<path d="M88.02,494.73L92.02,494.73L90.02,497.63Z" fill="#111"/>
<path d="M89.22,494.76L93.22,494.76L91.22,497.66Z" fill="#111"/>
<path d="M90.42,494.80L94.42,494.80L92.42,497.70Z" fill="#111"/>
<path d="M91.62,494.83L95.62,494.83L93.62,497.73Z" fill="#111"/>
<path d="M92.83,494.87L96.83,494.87L94.83,497.77Z" fill="#111"/>
<path d="M94.03,494.90L98.03,494.90L96.03,497.80Z" fill="#111"/>
<path d="M95.23,494.94L99.23,494.94L97.23,497.84Z" fill="#111"/>
<path d="M96.43,494.97L100.43,494.97L98.43,497.87Z" fill="#111"/>
<path d="M97.62,495.05L101.62,495.05L99.62,497.95Z" fill="#111"/>
<path d="M98.74,495.50L102.74,495.50L100.74,498.40Z" fill="#111"/>
<path d="M99.85,495.94L103.85,495.94L101.85,498.84Z" fill="#111"/>
<path d="M100.97,496.39L104.97,496.39L102.97,499.29Z" fill="#111"/>
<path d="M102.09,496.83L106.09,496.83L104.09,499.73Z" fill="#111"/>
<path d="M103.20,497.28L107.20,497.28L105.20,500.18Z" fill="#111"/>
<path d="M104.32,497.73L108.32,497.73L106.32,500.63Z" fill="#111"/>
<path d="M105.51,497.74L109.51,497.74L107.51,500.64Z" fill="#111"/>
<path d="M106.71,497.66L110.71,497.66L108.71,500.56Z" fill="#111"/>
<path d="M107.91,497.59L111.91,497.59L109.91,500.49Z" fill="#111"/>
<path d="M109.10,497.52L113.10,497.52L111.10,500.42Z" fill="#111"/>
<path d="M110.30,497.44L114.30,497.44L112.30,500.34Z" fill="#111"/>
<path d="M111.47,497.23L115.47,497.23L113.47,500.13Z" fill="#111"/>
<path d="M112.60,496.81L116.60,496.81L114.60,499.71Z" fill="#111"/>
<path d="M113.73,496.40L117.73,496.40L115.73,499.30Z" fill="#111"/>
<path d="M114.86,495.99L118.86,495.99L116.86,498.89Z" fill="#111"/>
<path d="M115.99,495.58L119.99,495.58L117.99,498.48Z" fill="#111"/>
<path d="M117.01,494.95L121.01,494.95L119.01,497.85Z" fill="#111"/>
<path d="M118.01,494.27L122.01,494.27L120.01,497.17Z" fill="#111"/>
<path d="M119.00,493.60L123.00,493.60L121.00,496.50Z" fill="#111"/>
<path d="M121.40,492.20L125.40,492.20L123.40,495.10Z" fill="#111"/>
<path d="M124.20,490.30L128.20,490.30L126.20,493.20Z" fill="#111"/>
<path d="M126.60,488.30L130.60,488.30L128.60,491.20Z" fill="#111"/>
<path d="M129.90,485.10L133.90,485.10L131.90,488.00Z" fill="#111"/>
<path d="M133.20,481.20L137.20,481.20L135.20,484.10Z" fill="#111"/>
<path d="M136.40,477.30L140.40,477.30L138.40,480.20Z" fill="#111"/>
<path d="M139.70,472.10L143.70,472.10L141.70,475.00Z" fill="#111"/>
<path d="M143.50,466.80L147.50,466.80L145.50,469.70Z" fill="#111"/>
<path d="M147.50,460.30L151.50,460.30L149.50,463.20Z" fill="#111"/>
<path d="M152.30,451.80L156.30,451.80L154.30,454.70Z" fill="#111"/>
<path d="M156.90,442.40L160.90,442.40L158.90,445.30Z" fill="#111"/>
<path d="M187.50,379.60L191.50,379.60L189.50,382.50Z" fill="#111"/>
<path d="M51.90,513.30L55.90,513.30L53.90,516.20Z" fill="#f03a3a"/>
<path d="M52.64,512.33L56.64,512.33L54.64,515.23Z" fill="#f03a3a"/>
<path d="M53.39,511.36L57.39,511.36L55.39,514.26Z" fill="#f03a3a"/>
<path d="M54.13,510.39L58.13,510.39L56.13,513.29Z" fill="#f03a3a"/>
<path d="M54.88,509.42L58.88,509.42L56.88,512.32Z" fill="#f03a3a"/>
<path d="M55.81,508.66L59.81,508.66L57.81,511.56Z" fill="#f03a3a"/>
<path d="M56.88,508.07L60.88,508.07L58.88,510.97Z" fill="#f03a3a"/>
<path d="M57.95,507.48L61.95,507.48L59.95,510.38Z" fill="#f03a3a"/>
<path d="M59.02,506.89L63.02,506.89L61.02,509.79Z" fill="#f03a3a"/>
<path d="M60.09,506.30L64.09,506.30L62.09,509.20Z" fill="#f03a3a"/>
<path d="M61.18,505.78L65.18,505.78L63.18,508.68Z" fill="#f03a3a"/>
<path d="M62.40,505.65L66.40,505.65L64.40,508.55Z" fill="#f03a3a"/>
<path d="M63.61,505.52L67.61,505.52L65.61,508.42Z" fill="#f03a3a"/>
<path d="M64.83,505.39L68.83,505.39L66.83,508.29Z" fill="#f03a3a"/>
<path d="M66.05,505.26L70.05,505.26L68.05,508.16Z" fill="#f03a3a"/>
<path d="M67.26,505.13L71.26,505.13L69.26,508.03Z" fill="#f03a3a"/>
<path d="M68.48,505.10L72.48,505.10L70.48,508.00Z" fill="#f03a3a"/>
<path d="M69.71,505.10L73.71,505.10L71.71,508.00Z" fill="#f03a3a"/>
<path d="M70.93,505.10L74.93,505.10L72.93,508.00Z" fill="#f03a3a"/>
<path d="M72.15,505.10L76.15,505.10L74.15,508.00Z" fill="#f03a3a"/>
<path d="M73.38,505.10L77.38,505.10L75.38,508.00Z" fill="#f03a3a"/>
<path d="M74.59,504.98L78.59,504.98L76.59,507.88Z" fill="#f03a3a"/>
<path d="M75.79,504.75L79.79,504.75L77.79,507.65Z" fill="#f03a3a"/>
<path d="M76.99,504.51L80.99,504.51L78.99,507.41Z" fill="#f03a3a"/>
<path d="M78.19,504.28L82.19,504.28L80.19,507.18Z" fill="#f03a3a"/>
<path d="M79.39,504.04L83.39,504.04L81.39,506.94Z" fill="#f03a3a"/>
<path d="M80.59,503.80L84.59,503.80L82.59,506.70Z" fill="#f03a3a"/>
<path d="M81.72,503.35L85.72,503.35L83.72,506.25Z" fill="#f03a3a"/>
<path d="M82.85,502.88L86.85,502.88L84.85,505.78Z" fill="#f03a3a"/>
<path d="M83.99,502.42L87.99,502.42L85.99,505.32Z" fill="#f03a3a"/>
<path d="M85.12,501.96L89.12,501.96L87.12,504.86Z" fill="#f03a3a"/>
<path d="M86.25,501.50L90.25,501.50L88.25,504.40Z" fill="#f03a3a"/>
<path d="M87.39,501.06L91.39,501.06L89.39,503.96Z" fill="#f03a3a"/>
<path d="M88.54,500.64L92.54,500.64L90.54,503.54Z" fill="#f03a3a"/>
<path d="M89.69,500.22L93.69,500.22L91.69,503.12Z" fill="#f03a3a"/>
<path d="M90.84,499.80L94.84,499.80L92.84,502.70Z" fill="#f03a3a"/>
<path d="M91.99,499.38L95.99,499.38L93.99,502.28Z" fill="#f03a3a"/>
<path d="M93.13,498.96L97.13,498.96L95.13,501.86Z" fill="#f03a3a"/>
<path d="M94.28,498.54L98.28,498.54L96.28,501.44Z" fill="#f03a3a"/>
<path d="M95.08,497.64L99.08,497.64L97.08,500.54Z" fill="#f03a3a"/>
<path d="M95.84,496.68L99.84,496.68L97.84,499.58Z" fill="#f03a3a"/>
<path d="M96.59,495.72L100.59,495.72L98.59,498.62Z" fill="#f03a3a"/>
<path d="M97.35,494.76L101.35,494.76L99.35,497.66Z" fill="#f03a3a"/>
<path d="M98.11,493.80L102.11,493.80L100.11,496.70Z" fill="#f03a3a"/>
<path d="M98.87,492.84L102.87,492.84L100.87,495.74Z" fill="#f03a3a"/>
<path d="M99.62,491.88L103.62,491.88L101.62,494.78Z" fill="#f03a3a"/>
<path d="M100.38,490.92L104.38,490.92L102.38,493.82Z" fill="#f03a3a"/>
<path d="M101.14,489.96L105.14,489.96L103.14,492.86Z" fill="#f03a3a"/>
<path d="M101.90,489.00L105.90,489.00L103.90,491.90Z" fill="#f03a3a"/>
<path d="M104.50,486.40L108.50,486.40L106.50,489.30Z" fill="#f03a3a"/>
<path d="M107.10,483.80L111.10,483.80L109.10,486.70Z" fill="#f03a3a"/>
<path d="M109.70,480.50L113.70,480.50L111.70,483.40Z" fill="#f03a3a"/>
<path d="M112.60,476.00L116.60,476.00L114.60,478.90Z" fill="#f03a3a"/>
<path d="M115.60,471.10L119.60,471.10L117.60,474.00Z" fill="#f03a3a"/>
<path d="M119.00,465.30L123.00,465.30L121.00,468.20Z" fill="#f03a3a"/>
<path d="M123.00,458.10L127.00,458.10L125.00,461.00Z" fill="#f03a3a"/>
<path d="M128.00,448.20L132.00,448.20L130.00,451.10Z" fill="#f03a3a"/>
<path d="M136.00,434.40L140.00,434.40L138.00,437.30Z" fill="#f03a3a"/>
<path d="M51.90,513.30L55.90,513.30L53.90,516.20Z" fill="#1b6fd6"/>
<path d="M52.88,512.59L56.88,512.59L54.88,515.49Z" fill="#1b6fd6"/>
<path d="M53.85,511.88L57.85,511.88L55.85,514.78Z" fill="#1b6fd6"/>
<path d="M54.83,511.17L58.83,511.17L56.83,514.07Z" fill="#1b6fd6"/>
<path d="M55.91,510.67L59.91,510.67L57.91,513.57Z" fill="#1b6fd6"/>
<path d="M57.06,510.29L61.06,510.29L59.06,513.19Z" fill="#1b6fd6"/>
<path d="M58.21,509.92L62.21,509.92L60.21,512.82Z" fill="#1b6fd6"/>
<path d="M59.35,509.54L63.35,509.54L61.35,512.44Z" fill="#1b6fd6"/>
<path d="M60.50,509.16L64.50,509.16L62.50,512.06Z" fill="#1b6fd6"/>
<path d="M61.68,508.93L65.68,508.93L63.68,511.83Z" fill="#1b6fd6"/>
<path d="M62.88,508.80L66.88,508.80L64.88,511.70Z" fill="#1b6fd6"/>
<path d="M64.08,508.67L68.08,508.67L66.08,511.57Z" fill="#1b6fd6"/>
<path d="M65.28,508.54L69.28,508.54L67.28,511.44Z" fill="#1b6fd6"/>
<path d="M66.48,508.41L70.48,508.41L68.48,511.31Z" fill="#1b6fd6"/>
<path d="M67.68,508.34L71.68,508.34L69.68,511.24Z" fill="#1b6fd6"/>
<path d="M68.86,508.57L72.86,508.57L70.86,511.47Z" fill="#1b6fd6"/>
<path d="M70.04,508.81L74.04,508.81L72.04,511.71Z" fill="#1b6fd6"/>
<path d="M71.23,509.05L75.23,509.05L73.23,511.95Z" fill="#1b6fd6"/>
<path d="M72.41,509.28L76.41,509.28L74.41,512.18Z" fill="#1b6fd6"/>
<path d="M73.59,509.52L77.59,509.52L75.59,512.42Z" fill="#1b6fd6"/>
<path d="M74.78,509.45L78.78,509.45L76.78,512.35Z" fill="#1b6fd6"/>
<path d="M75.96,509.21L79.96,509.21L77.96,512.11Z" fill="#1b6fd6"/>
<path d="M77.15,508.98L81.15,508.98L79.15,511.88Z" fill="#1b6fd6"/>
<path d="M78.33,508.75L82.33,508.75L80.33,511.65Z" fill="#1b6fd6"/>
<path d="M79.52,508.51L83.52,508.51L81.52,511.41Z" fill="#1b6fd6"/>
<path d="M80.69,508.25L84.69,508.25L82.69,511.15Z" fill="#1b6fd6"/>
<path d="M81.72,507.62L85.72,507.62L83.72,510.52Z" fill="#1b6fd6"/>
<path d="M82.75,506.99L86.75,506.99L84.75,509.89Z" fill="#1b6fd6"/>
<path d="M83.78,506.36L87.78,506.36L85.78,509.26Z" fill="#1b6fd6"/>
<path d="M84.81,505.73L88.81,505.73L86.81,508.63Z" fill="#1b6fd6"/>
<path d="M85.84,505.11L89.84,505.11L87.84,508.01Z" fill="#1b6fd6"/>
<path d="M86.87,504.48L90.87,504.48L88.87,507.38Z" fill="#1b6fd6"/>
<path d="M87.83,503.75L91.83,503.75L89.83,506.65Z" fill="#1b6fd6"/>
<path d="M88.78,503.00L92.78,503.00L90.78,505.90Z" fill="#1b6fd6"/>
<path d="M89.73,502.25L93.73,502.25L91.73,505.15Z" fill="#1b6fd6"/>
<path d="M90.68,501.50L94.68,501.50L92.68,504.40Z" fill="#1b6fd6"/>
<path d="M91.62,500.76L95.62,500.76L93.62,503.66Z" fill="#1b6fd6"/>
<path d="M92.57,500.01L96.57,500.01L94.57,502.91Z" fill="#1b6fd6"/>
<path d="M93.52,499.26L97.52,499.26L95.52,502.16Z" fill="#1b6fd6"/>
<path d="M94.39,498.43L98.39,498.43L96.39,501.33Z" fill="#1b6fd6"/>
<path d="M95.25,497.58L99.25,497.58L97.25,500.48Z" fill="#1b6fd6"/>
<path d="M96.11,496.74L100.11,496.74L98.11,499.64Z" fill="#1b6fd6"/>
<path d="M96.98,495.89L100.98,495.89L98.98,498.79Z" fill="#1b6fd6"/>
<path d="M97.84,495.05L101.84,495.05L99.84,497.95Z" fill="#1b6fd6"/>
<path d="M98.70,494.20L102.70,494.20L100.70,497.10Z" fill="#1b6fd6"/>
<path d="M100.60,491.60L104.60,491.60L102.60,494.50Z" fill="#1b6fd6"/>
<path d="M103.20,489.00L107.20,489.00L105.20,491.90Z" fill="#1b6fd6"/>
<path d="M105.80,486.40L109.80,486.40L107.80,489.30Z" fill="#1b6fd6"/>
<path d="M108.30,483.80L112.30,483.80L110.30,486.70Z" fill="#1b6fd6"/>
<path d="M110.00,482.00L114.00,482.00L112.00,484.90Z" fill="#1b6fd6"/>
<path d="M51.90,514.40L55.90,514.40L53.90,517.30Z" fill="#b377e3"/>
<path d="M53.13,514.31L57.13,514.31L55.13,517.21Z" fill="#b377e3"/>
<path d="M54.37,514.22L58.37,514.22L56.37,517.12Z" fill="#b377e3"/>
<path d="M55.60,514.13L59.60,514.13L57.60,517.03Z" fill="#b377e3"/>
<path d="M56.83,514.00L60.83,514.00L58.83,516.90Z" fill="#b377e3"/>
<path d="M58.05,513.85L62.05,513.85L60.05,516.75Z" fill="#b377e3"/>
<path d="M59.28,513.71L63.28,513.71L61.28,516.61Z" fill="#b377e3"/>
<path d="M60.51,513.56L64.51,513.56L62.51,516.46Z" fill="#b377e3"/>
<path d="M61.50,512.96L65.50,512.96L63.50,515.86Z" fill="#b377e3"/>
<path d="M62.34,512.05L66.34,512.05L64.34,514.95Z" fill="#b377e3"/>
<path d="M63.18,511.14L67.18,511.14L65.18,514.04Z" fill="#b377e3"/>
<path d="M63.80,510.09L67.80,510.09L65.80,512.99Z" fill="#b377e3"/>
<path d="M64.28,508.95L68.28,508.95L66.28,511.85Z" fill="#b377e3"/>
<path d="M64.76,507.82L68.76,507.82L66.76,510.72Z" fill="#b377e3"/>
<path d="M65.24,506.68L69.24,506.68L67.24,509.58Z" fill="#b377e3"/>
<path d="M65.72,505.54L69.72,505.54L67.72,508.44Z" fill="#b377e3"/>
<path d="M66.20,504.40L70.20,504.40L68.20,507.30Z" fill="#b377e3"/>
<path d="M67.20,502.60L71.20,502.60L69.20,505.50Z" fill="#b377e3"/>
<path d="M68.40,500.60L72.40,500.60L70.40,503.50Z" fill="#b377e3"/>
<path d="M69.90,497.90L73.90,497.90L71.90,500.80Z" fill="#b377e3"/>
<path d="M71.70,495.10L75.70,495.10L73.70,498.00Z" fill="#b377e3"/>
<path d="M73.40,491.80L77.40,491.80L75.40,494.70Z" fill="#b377e3"/>
<path d="M75.60,487.90L79.60,487.90L77.60,490.80Z" fill="#b377e3"/>
<path d="M78.60,483.10L82.60,483.10L80.60,486.00Z" fill="#b377e3"/>
<path d="M81.60,476.20L85.60,476.20L83.60,479.10Z" fill="#b377e3"/>
<path d="M84.70,469.00L88.70,469.00L86.70,471.90Z" fill="#b377e3"/>
<path d="M87.50,460.70L91.50,460.70L89.50,463.60Z" fill="#b377e3"/>
<path d="M90.70,452.90L94.70,452.90L92.70,455.80Z" fill="#b377e3"/>
<path d="M94.90,443.10L98.90,443.10L96.90,446.00Z" fill="#b377e3"/>
<path d="M99.80,432.40L103.80,432.40L101.80,435.30Z" fill="#b377e3"/>
<path d="M124.20,392.00L128.20,392.00L126.20,394.90Z" fill="#b377e3"/>
<rect x="40" y="378" width="171.00" height="139.00" fill="none" stroke="#000" stroke-width="1.9"/>
<path d="M48.30,385.14L52.50,385.14L50.40,388.19Z" fill="#111"/>
<g transform="translate(59.36,388.30)"><text font-size="6.124" font-weight="bold" stroke="#000" stroke-width="0.153">Co<tspan font-size="4.04" dy="1.71">9</tspan><tspan font-size="6.12" dy="-1.71">S</tspan>e<tspan font-size="4.04" dy="1.71">8</tspan><tspan font-size="6.12" dy="-1.71">@</tspan>C</text></g>
<path d="M48.30,393.34L52.50,393.34L50.40,396.39Z" fill="#f03a3a"/>
<g transform="translate(59.54,396.50)"><text font-size="6.124" font-weight="bold" stroke="#000" stroke-width="0.153">Ni<tspan font-size="4.04" dy="1.71">3</tspan><tspan font-size="6.12" dy="-1.71">S</tspan>e<tspan font-size="4.04" dy="1.71">4</tspan><tspan font-size="6.12" dy="-1.71">@</tspan>C</text></g>
<path d="M48.30,402.74L52.50,402.74L50.40,405.79Z" fill="#1b6fd6"/>
<g transform="translate(59.36,405.90)"><text font-size="6.124" font-weight="bold" stroke="#000" stroke-width="0.153">Co<tspan font-size="4.04" dy="1.71">9</tspan><tspan font-size="6.12" dy="-1.71">S</tspan>e<tspan font-size="4.04" dy="1.71">8</tspan><tspan font-size="6.12" dy="-1.71">/</tspan>Ni<tspan font-size="4.04" dy="1.71">3</tspan><tspan font-size="6.12" dy="-1.71">S</tspan>e<tspan font-size="4.04" dy="1.71">4</tspan><tspan font-size="6.12" dy="-1.71">@</tspan>C</text></g>
<path d="M48.30,411.54L52.50,411.54L50.40,414.59Z" fill="#16a070"/>
<g transform="translate(59.36,414.70)"><text font-size="6.124" font-weight="bold" stroke="#000" stroke-width="0.153">Co<tspan font-size="4.04" dy="1.71">9</tspan><tspan font-size="6.12" dy="-1.71">S</tspan>e<tspan font-size="4.04" dy="1.71">8</tspan><tspan font-size="6.12" dy="-1.71">/</tspan>Ni<tspan font-size="4.04" dy="1.71">3</tspan><tspan font-size="6.12" dy="-1.71">S</tspan>e<tspan font-size="4.04" dy="1.71">4</tspan><tspan font-size="6.12" dy="-1.71">/</tspan>Fe<tspan font-size="4.04" dy="1.71">3</tspan><tspan font-size="6.12" dy="-1.71">O</tspan><tspan font-size="4.04" dy="1.71">4</tspan></text></g>
<path d="M48.30,420.34L52.50,420.34L50.40,423.39Z" fill="#b377e3"/>
<g transform="translate(59.36,423.50)"><text font-size="6.124" font-weight="bold" stroke="#000" stroke-width="0.153">Co<tspan font-size="4.04" dy="1.71">9</tspan><tspan font-size="6.12" dy="-1.71">S</tspan>e<tspan font-size="4.04" dy="1.71">8</tspan><tspan font-size="6.12" dy="-1.71">/</tspan>Ni<tspan font-size="4.04" dy="1.71">3</tspan><tspan font-size="6.12" dy="-1.71">S</tspan>e<tspan font-size="4.04" dy="1.71">4</tspan><tspan font-size="6.12" dy="-1.71">/</tspan>Fe<tspan font-size="4.04" dy="1.71">3</tspan><tspan font-size="6.12" dy="-1.71">O</tspan><tspan font-size="4.04" dy="1.71">4</tspan><tspan font-size="6.12" dy="-1.71">@</tspan>C</text></g>
<g transform="translate(3.96,382.30)"><text font-size="14.741" font-weight="bold" stroke="#000" stroke-width="0.369">(d)</text></g>
<g transform="translate(17.40,463.89) rotate(-90)"><text font-size="12.294" font-weight="bold" stroke="#000" stroke-width="0.307">−Z’’ (Ω)</text></g>
<g transform="translate(109.83,545.40)"><text font-size="11.634" font-weight="bold" stroke="#000" stroke-width="0.291">Z’ (Ω)</text></g>
<line x1="130.00" y1="499.40" x2="142.40" y2="499.40" stroke="#222" stroke-width="0.75"/>
<polyline points="142.4,499.4 143.6,497.6 146.0,501.2 148.4,497.6 150.8,501.2 153.2,497.6 155.0,501.0 156.1,499.4" fill="none" stroke="#222" stroke-width="0.75"/>
<line x1="156.10" y1="499.40" x2="177.50" y2="499.40" stroke="#222" stroke-width="0.75"/>
<circle cx="168.6" cy="499.4" r="1.3" fill="#111"/>
<polyline points="177,497.2 179,499.4 177,501.6" fill="none" stroke="#222" stroke-width="0.75"/>
<polyline points="179.6,497.2 181.6,499.4 179.6,501.6" fill="none" stroke="#222" stroke-width="0.75"/>
<line x1="181.60" y1="499.40" x2="202.30" y2="499.40" stroke="#222" stroke-width="0.75"/>
<polyline points="168.6,499.4 168.6,509.4 174.8,509.4 175.9,507.6 178.2,511.2 180.5,507.6 182.8,511.2 185.1,507.6 187.4,511.2 188.6,509.4 193.5,509.4 193.5,499.4" fill="none" stroke="#222" stroke-width="0.75"/>
<text x="149.9" y="496.0" font-size="4.2" text-anchor="middle" fill="#333" font-family='"Liberation Sans", sans-serif'>Rs</text>
<text x="181.0" y="496.0" font-size="4.2" text-anchor="middle" fill="#333" font-family='"Liberation Sans", sans-serif'>CPE</text>
<text x="181.0" y="506.6" font-size="4.2" text-anchor="middle" fill="#333" font-family='"Liberation Sans", sans-serif'>Rct</text>
<rect x="145.6" y="385.7" width="57.70" height="46.00" fill="#fff" stroke="#111" stroke-width="0.8"/>
<line x1="144.40" y1="431.70" x2="145.60" y2="431.70" stroke="#000" stroke-width="0.6"/>
<text x="143.80" y="433.00" font-size="3.600" font-weight="bold" text-anchor="end" stroke="#000" stroke-width="0.090">0.0</text>
<line x1="144.40" y1="416.37" x2="145.60" y2="416.37" stroke="#000" stroke-width="0.6"/>
<text x="143.80" y="417.67" font-size="3.600" font-weight="bold" text-anchor="end" stroke="#000" stroke-width="0.090">0.5</text>
<line x1="144.40" y1="401.03" x2="145.60" y2="401.03" stroke="#000" stroke-width="0.6"/>
<text x="143.80" y="402.33" font-size="3.600" font-weight="bold" text-anchor="end" stroke="#000" stroke-width="0.090">1.0</text>
<line x1="144.40" y1="385.70" x2="145.60" y2="385.70" stroke="#000" stroke-width="0.6"/>
<text x="143.80" y="387.00" font-size="3.600" font-weight="bold" text-anchor="end" stroke="#000" stroke-width="0.090">1.5</text>
<line x1="145.60" y1="431.70" x2="145.60" y2="432.90" stroke="#000" stroke-width="0.6"/>
<text x="145.60" y="436.50" font-size="3.600" font-weight="bold" text-anchor="middle" stroke="#000" stroke-width="0.090">8</text>
<line x1="155.22" y1="431.70" x2="155.22" y2="432.90" stroke="#000" stroke-width="0.6"/>
<text x="155.22" y="436.50" font-size="3.600" font-weight="bold" text-anchor="middle" stroke="#000" stroke-width="0.090">9</text>
<line x1="164.83" y1="431.70" x2="164.83" y2="432.90" stroke="#000" stroke-width="0.6"/>
<text x="164.83" y="436.50" font-size="3.600" font-weight="bold" text-anchor="middle" stroke="#000" stroke-width="0.090">10</text>
<line x1="174.45" y1="431.70" x2="174.45" y2="432.90" stroke="#000" stroke-width="0.6"/>
<text x="174.45" y="436.50" font-size="3.600" font-weight="bold" text-anchor="middle" stroke="#000" stroke-width="0.090">11</text>
<line x1="184.07" y1="431.70" x2="184.07" y2="432.90" stroke="#000" stroke-width="0.6"/>
<text x="184.07" y="436.50" font-size="3.600" font-weight="bold" text-anchor="middle" stroke="#000" stroke-width="0.090">12</text>
<line x1="193.68" y1="431.70" x2="193.68" y2="432.90" stroke="#000" stroke-width="0.6"/>
<text x="193.68" y="436.50" font-size="3.600" font-weight="bold" text-anchor="middle" stroke="#000" stroke-width="0.090">13</text>
<line x1="203.30" y1="431.70" x2="203.30" y2="432.90" stroke="#000" stroke-width="0.6"/>
<text x="203.30" y="436.50" font-size="3.600" font-weight="bold" text-anchor="middle" stroke="#000" stroke-width="0.090">14</text>
<text x="174.40" y="442.20" font-size="3.600" font-weight="bold" text-anchor="middle" stroke="#000" stroke-width="0.090">Z’ (Ω)</text>
<g transform="translate(140.2,409) rotate(-90)"><text font-size="3.6" text-anchor="middle" font-weight="bold">Z’’ (Ω)</text></g>
<path d="M151.60,390.00L153.60,390.00L152.60,391.45Z" fill="#b377e3"/>
<text x="157.80" y="391.90" font-size="4.200" font-weight="bold" text-anchor="start" stroke="#000" stroke-width="0.105">Fe0.2Co0.8Ni0.3OSe@C</text>
<path d="M156.80,423.00L158.80,423.00L157.80,424.45Z" fill="#b783e0"/>
<path d="M157.51,421.61L159.51,421.61L158.51,423.06Z" fill="#b783e0"/>
<path d="M158.23,420.22L160.23,420.22L159.23,421.67Z" fill="#b783e0"/>
<path d="M158.90,418.82L160.90,418.82L159.90,420.27Z" fill="#b783e0"/>
<path d="M159.52,417.39L161.52,417.39L160.52,418.84Z" fill="#b783e0"/>
<path d="M160.13,415.95L162.13,415.95L161.13,417.40Z" fill="#b783e0"/>
<path d="M160.75,414.52L162.75,414.52L161.75,415.97Z" fill="#b783e0"/>
<path d="M161.54,413.18L163.54,413.18L162.54,414.63Z" fill="#b783e0"/>
<path d="M162.36,411.85L164.36,411.85L163.36,413.30Z" fill="#b783e0"/>
<path d="M163.17,410.52L165.17,410.52L164.17,411.97Z" fill="#b783e0"/>
<path d="M164.10,409.27L166.10,409.27L165.10,410.72Z" fill="#b783e0"/>
<path d="M165.06,408.04L167.06,408.04L166.06,409.49Z" fill="#b783e0"/>
<path d="M166.02,406.81L168.02,406.81L167.02,408.26Z" fill="#b783e0"/>
<path d="M167.12,405.72L169.12,405.72L168.12,407.17Z" fill="#b783e0"/>
<path d="M168.35,404.76L170.35,404.76L169.35,406.21Z" fill="#b783e0"/>
<path d="M169.58,403.80L171.58,403.80L170.58,405.25Z" fill="#b783e0"/>
<path d="M170.84,402.90L172.84,402.90L171.84,404.35Z" fill="#b783e0"/>
<path d="M172.30,402.34L174.30,402.34L173.30,403.79Z" fill="#b783e0"/>
<path d="M173.75,401.77L175.75,401.77L174.75,403.22Z" fill="#b783e0"/>
<path d="M175.23,401.51L177.23,401.51L176.23,402.96Z" fill="#b783e0"/>
<path d="M176.76,401.81L178.76,401.81L177.76,403.26Z" fill="#b783e0"/>
<path d="M178.29,402.12L180.29,402.12L179.29,403.57Z" fill="#b783e0"/>
<path d="M179.75,402.64L181.75,402.64L180.75,404.09Z" fill="#b783e0"/>
<path d="M181.19,403.25L183.19,403.25L182.19,404.70Z" fill="#b783e0"/>
<path d="M182.63,403.85L184.63,403.85L183.63,405.30Z" fill="#b783e0"/>
<path d="M184.06,404.46L186.06,404.46L185.06,405.91Z" fill="#b783e0"/>
<path d="M185.49,405.08L187.49,405.08L186.49,406.53Z" fill="#b783e0"/>
<path d="M186.92,405.71L188.92,405.71L187.92,407.16Z" fill="#b783e0"/>
<path d="M188.35,406.33L190.35,406.33L189.35,407.78Z" fill="#b783e0"/>
<path d="M189.78,406.96L191.78,406.96L190.78,408.41Z" fill="#b783e0"/>
<path d="M191.30,406.98L193.30,406.98L192.30,408.43Z" fill="#b783e0"/>
<path d="M192.86,406.83L194.86,406.83L193.86,408.28Z" fill="#b783e0"/>
<path d="M194.37,406.58L196.37,406.58L195.37,408.03Z" fill="#b783e0"/>
<path d="M195.64,405.68L197.64,405.68L196.64,407.13Z" fill="#b783e0"/>
<path d="M196.92,404.78L198.92,404.78L197.92,406.23Z" fill="#b783e0"/>
<path d="M198.19,403.88L200.19,403.88L199.19,405.33Z" fill="#b783e0"/>
<path d="M199.05,402.59L201.05,402.59L200.05,404.04Z" fill="#b783e0"/>
<path d="M199.87,401.26L201.87,401.26L200.87,402.71Z" fill="#b783e0"/>
<path d="M200.68,399.93L202.68,399.93L201.68,401.38Z" fill="#b783e0"/>
<path d="M201.50,398.60L203.50,398.60L202.50,400.05Z" fill="#b783e0"/>
<line x1="272.80" y1="517.00" x2="276.00" y2="517.00" stroke="#000" stroke-width="1.5"/>
<text x="270.80" y="519.83" font-size="8.571" font-weight="bold" text-anchor="end" stroke="#000" stroke-width="0.214">0.0</text>
<line x1="272.80" y1="482.25" x2="276.00" y2="482.25" stroke="#000" stroke-width="1.5"/>
<text x="270.80" y="485.08" font-size="8.571" font-weight="bold" text-anchor="end" stroke="#000" stroke-width="0.214">0.2</text>
<line x1="272.80" y1="447.50" x2="276.00" y2="447.50" stroke="#000" stroke-width="1.5"/>
<text x="270.80" y="450.33" font-size="8.571" font-weight="bold" text-anchor="end" stroke="#000" stroke-width="0.214">0.4</text>
<line x1="272.80" y1="412.75" x2="276.00" y2="412.75" stroke="#000" stroke-width="1.5"/>
<text x="270.80" y="415.58" font-size="8.571" font-weight="bold" text-anchor="end" stroke="#000" stroke-width="0.214">0.6</text>
<line x1="272.80" y1="378.00" x2="276.00" y2="378.00" stroke="#000" stroke-width="1.5"/>
<text x="270.80" y="380.83" font-size="8.571" font-weight="bold" text-anchor="end" stroke="#000" stroke-width="0.214">0.8</text>
<line x1="276.00" y1="517.00" x2="276.00" y2="520.00" stroke="#000" stroke-width="1.5"/>
<text x="276.00" y="528.00" font-size="8.571" font-weight="bold" text-anchor="middle" stroke="#000" stroke-width="0.214">0</text>
<line x1="304.53" y1="517.00" x2="304.53" y2="520.00" stroke="#000" stroke-width="1.5"/>
<text x="304.53" y="528.00" font-size="8.571" font-weight="bold" text-anchor="middle" stroke="#000" stroke-width="0.214">4</text>
<line x1="333.07" y1="517.00" x2="333.07" y2="520.00" stroke="#000" stroke-width="1.5"/>
<text x="333.07" y="528.00" font-size="8.571" font-weight="bold" text-anchor="middle" stroke="#000" stroke-width="0.214">8</text>
<line x1="361.60" y1="517.00" x2="361.60" y2="520.00" stroke="#000" stroke-width="1.5"/>
<text x="361.60" y="528.00" font-size="8.571" font-weight="bold" text-anchor="middle" stroke="#000" stroke-width="0.214">12</text>
<line x1="390.13" y1="517.00" x2="390.13" y2="520.00" stroke="#000" stroke-width="1.5"/>
<text x="390.13" y="528.00" font-size="8.571" font-weight="bold" text-anchor="middle" stroke="#000" stroke-width="0.214">16</text>
<line x1="418.67" y1="517.00" x2="418.67" y2="520.00" stroke="#000" stroke-width="1.5"/>
<text x="418.67" y="528.00" font-size="8.571" font-weight="bold" text-anchor="middle" stroke="#000" stroke-width="0.214">20</text>
<line x1="447.20" y1="517.00" x2="447.20" y2="520.00" stroke="#000" stroke-width="1.5"/>
<text x="447.20" y="528.00" font-size="8.571" font-weight="bold" text-anchor="middle" stroke="#000" stroke-width="0.214">24</text>
<path d="M276.00,423.40 C278.33,422.93 285.17,421.62 290.00,420.60 C294.83,419.58 300.00,418.30 305.00,417.30 C310.00,416.30 315.00,415.28 320.00,414.60 C325.00,413.92 330.00,413.47 335.00,413.20 C340.00,412.93 344.17,412.95 350.00,413.00 C355.83,413.05 361.67,413.43 370.00,413.50 C378.33,413.57 390.83,413.48 400.00,413.40 C409.17,413.32 417.17,413.10 425.00,413.00 C432.83,412.90 443.33,412.83 447.00,412.80" fill="none" stroke="#111" stroke-width="1.3" stroke-linejoin="round" stroke-linecap="round"/>
<rect x="276" y="378" width="171.20" height="139.00" fill="none" stroke="#000" stroke-width="1.9"/>
<line x1="291.70" y1="392.00" x2="308.00" y2="392.00" stroke="#222" stroke-width="1.4"/>
<g transform="translate(310.12,394.40)"><text font-size="7.071" font-weight="bold" stroke="#000" stroke-width="0.177">Co<tspan font-size="4.67" dy="1.98">9</tspan><tspan font-size="7.07" dy="-1.98">S</tspan>e<tspan font-size="4.67" dy="1.98">8</tspan><tspan font-size="7.07" dy="-1.98">/</tspan>Ni<tspan font-size="4.67" dy="1.98">3</tspan><tspan font-size="7.07" dy="-1.98">S</tspan>e<tspan font-size="4.67" dy="1.98">4</tspan><tspan font-size="7.07" dy="-1.98">/</tspan>Fe<tspan font-size="4.67" dy="1.98">3</tspan><tspan font-size="7.07" dy="-1.98">O</tspan><tspan font-size="4.67" dy="1.98">4</tspan><tspan font-size="7.07" dy="-1.98">@</tspan>C</text></g>
<g transform="translate(237.27,383.10)"><text font-size="14.476" font-weight="bold" stroke="#000" stroke-width="0.362">(e)</text></g>
<g transform="translate(251.50,474.80) rotate(-90)"><text font-size="11.581" font-weight="bold" stroke="#000" stroke-width="0.290">Potential (V)</text></g>
<g transform="translate(340.80,544.60)"><text font-size="11.401" font-weight="bold" stroke="#000" stroke-width="0.285">Time (h)</text></g>
</svg></body></html>
